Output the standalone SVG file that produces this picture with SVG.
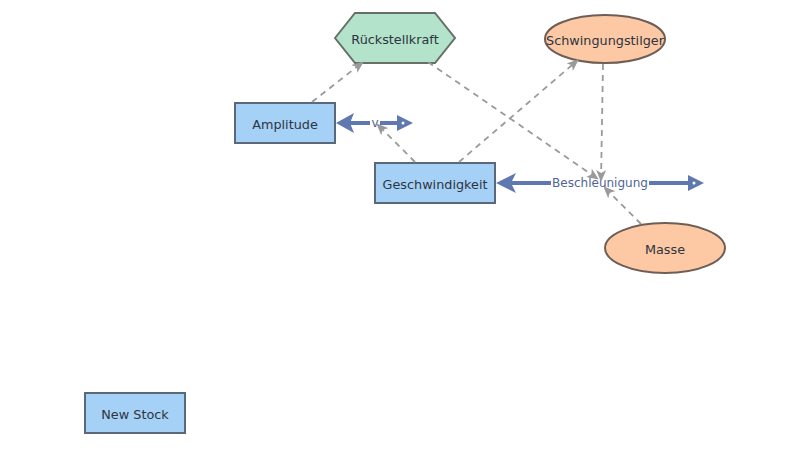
<svg xmlns="http://www.w3.org/2000/svg" width="800" height="454" viewBox="0 0 800 454">
<defs>
<style>
.stock{fill:#a6d1f7;stroke:#5a6878;stroke-width:2}
.aux{fill:#fdc9a5;stroke:#6e5e55;stroke-width:2}
.conv{fill:#b3e3cb;stroke:#667068;stroke-width:2}
.lbl{font-family:"DejaVu Sans",sans-serif;font-size:12.8px;fill:#2e3440;text-anchor:middle;dominant-baseline:central}
.flow{stroke:#5f78b0;stroke-width:4;fill:none}
.head{fill:#5f78b0}
.flbl{font-family:"DejaVu Sans",sans-serif;font-size:12px;fill:#4f6593;text-anchor:middle;dominant-baseline:central}
.link{stroke:#9a9a9a;stroke-width:1.8;stroke-dasharray:6,5;fill:none;marker-end:url(#ah)}
</style>
<marker id="ah" viewBox="0 0 12 10" refX="11" refY="5" markerWidth="12" markerHeight="10" markerUnits="userSpaceOnUse" orient="auto">
<path d="M0,0 L12,5 L0,10 L3,5 Z" fill="#9a9a9a"/>
</marker>
</defs>
<rect width="800" height="454" fill="#fff"/>
<g id="flows">
<g id="flow-v">
<line class="flow" x1="350" y1="123" x2="400" y2="123"/>
<path class="head" d="M336,123 L354,113 L350,123 L354,133 Z"/>
<path class="head" d="M413,123 L397,115 L397,131 Z"/>
<circle cx="403" cy="123" r="1.5" fill="#fff"/>
<rect x="370" y="116" width="10" height="14" fill="#fff"/>
<text class="flbl" x="375" y="123">v</text>
</g>
<g id="flow-beschleunigung">
<line class="flow" x1="510" y1="183" x2="690" y2="183"/>
<path class="head" d="M496,183 L516,173 L511,183 L516,193 Z"/>
<path class="head" d="M704,183 L688,175 L688,191 Z"/>
<circle cx="694" cy="183" r="1.5" fill="#fff"/>
<rect x="551" y="175" width="98" height="16" fill="#fff"/>
<text class="flbl" x="600" y="183">Beschleunigung</text>
</g>
</g>
<g id="Amplitude">
<rect class="stock" x="235" y="103" width="100" height="40"/>
<text class="lbl" x="285" y="124">Amplitude</text>
</g>
<g id="Geschwindigkeit">
<rect class="stock" x="375" y="163" width="120" height="40"/>
<text class="lbl" x="435" y="184">Geschwindigkeit</text>
</g>
<g id="NewStock">
<rect class="stock" x="85" y="393" width="100" height="40"/>
<text class="lbl" x="135" y="414">New Stock</text>
</g>
<g id="Rueckstellkraft">
<polygon class="conv" points="335,38 355,13 435,13 455,38 435,63 355,63"/>
<text class="lbl" x="395" y="39">Rückstellkraft</text>
</g>
<g id="Schwingungstilger">
<ellipse class="aux" cx="605" cy="39" rx="60" ry="24"/>
<text class="lbl" x="605" y="40">Schwingungstilger</text>
</g>
<g id="Masse">
<ellipse class="aux" cx="665" cy="248" rx="60" ry="25"/>
<text class="lbl" x="665" y="249">Masse</text>
</g>
<g id="links">
<line class="link" x1="312" y1="102" x2="363" y2="62"/>
<line class="link" x1="428" y1="62" x2="598" y2="179"/>
<line class="link" x1="459" y1="162" x2="578" y2="60"/>
<line class="link" x1="415" y1="162" x2="377" y2="124"/>
<line class="link" x1="603" y1="64" x2="601" y2="181"/>
<line class="link" x1="641" y1="224" x2="604" y2="187"/>
</g>
</svg>
